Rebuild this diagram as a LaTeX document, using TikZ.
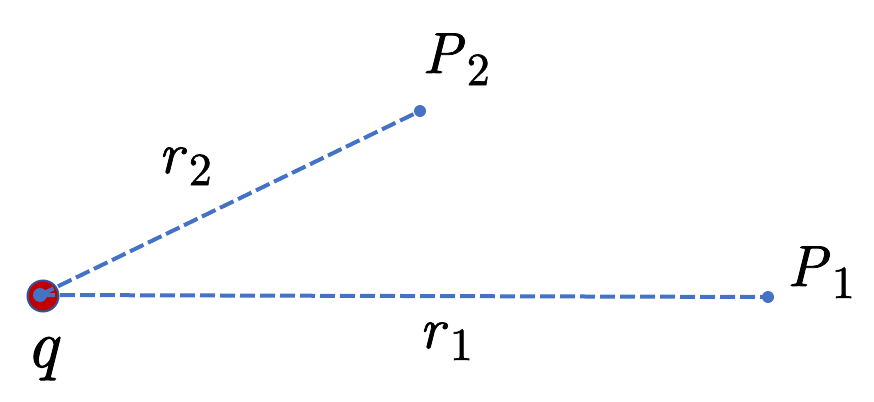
\documentclass[tikz,border=0pt]{standalone}
\usepackage{fontspec}
\newfontfamily\labfont{lmroman10}[Extension=.otf, UprightFont=*-regular, ItalicFont=*-italic, FakeBold=1.3]
\usetikzlibrary{calc}
\definecolor{lineblue}{HTML}{4472C4}
\definecolor{chargered}{HTML}{C00000}
\definecolor{rimblue}{HTML}{2F5597}
\newcommand\symlab[2]{\textit{#1}\kern1pt\raisebox{-6pt}{\fontsize{23}{27}\selectfont #2}}
\tikzset{
  conn/.style={draw=lineblue, line width=2pt, dash pattern=on 7.5pt off 2.5pt},
  pointdot/.style={circle, fill=lineblue, inner sep=0pt, minimum size=6pt},
  lbl/.style={inner sep=0pt, anchor=base west, font=\labfont\fontsize{29}{35}\selectfont},
}
\begin{document}
\begin{tikzpicture}[x=0.5pt, y=-0.5pt]
\useasboundingbox (0,0) rectangle (874,402);
% charge
\node[circle, draw=rimblue, line width=1pt, fill=chargered, minimum size=15.5pt, inner sep=0pt] (qc) at (43,296) {};
\node[pointdot, minimum size=7pt] (q) at (40,295) {};
% points
\node[pointdot] (p2) at (420,111) {};
\node[pointdot] (p1) at (768,297) {};
% connectors
\draw[conn] (q.center) -- (p2.center);
\draw[conn] (q.center) -- (p1.center);
% labels
\node[lbl] (lp2) at (422,73) {\symlab{P}{2}};
\node[lbl] (lp1) at (787,286) {\symlab{P}{1}};
\node[lbl] (lr2) at (158,173) {\symlab{r}{2}};
\node[lbl] (lr1) at (419,348) {\symlab{r}{1}};
\node[lbl, font=\labfont\fontsize{34}{40}\selectfont] (lq) at (26,367) {\textit{q}};
\end{tikzpicture}
\end{document}
